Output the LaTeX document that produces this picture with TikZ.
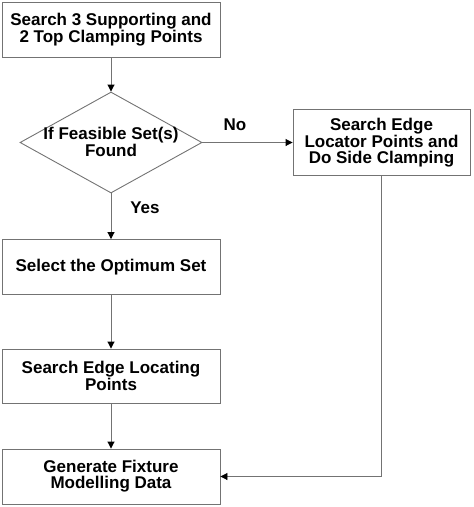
\documentclass[tikz,border=0pt]{standalone}
\usepackage{fontspec}
\setmainfont{Liberation Sans}
\usetikzlibrary{shapes.geometric,arrows.meta}
\tikzset{
  line/.style={draw=black!55, line width=0.9pt},
  procbox/.style={line, rectangle, minimum width=218pt, inner sep=0pt, align=center,
    font=\fontsize{17pt}{15.8pt}\selectfont\bfseries},
  decision/.style={line, diamond, minimum width=182pt, minimum height=101pt, inner sep=0pt},
  txt/.style={align=center, inner sep=0pt, font=\fontsize{17pt}{15.8pt}\selectfont\bfseries},
  flow/.style={line, -{Triangle[length=7pt,width=7pt,color=black]}},
}
\begin{document}
\begin{tikzpicture}[x=1pt,y=-1pt]
\useasboundingbox (0,0) rectangle (474,507);
\node[procbox, minimum height=55pt] (b1) at (111,29.5) {Search 3 Supporting and\\2 Top Clamping Points};
\node[decision] (d) at (111,142.5) {};
\node[txt] (dt) at (111,142) {If Feasible Set(s)\\Found};
\node[procbox, minimum width=177pt, minimum height=66pt] (r) at (381.5,142.5) {Search Edge\\Locator Points and\\Do Side Clamping};
\node[procbox, minimum height=55pt] (b2) at (111,267) {Select the Optimum Set};
\node[procbox, minimum height=54pt] (b3) at (111,376) {Search Edge Locating\\Points};
\node[procbox, minimum height=55pt] (b4) at (111,476.5) {Generate Fixture\\Modelling Data};
\node[txt] (no) at (235,124.5) {No};
\node[txt] (yes) at (145,207.5) {Yes};
\draw[flow] (b1.south) -- (d.north);
\draw[flow] (d.east) -- (r.west);
\draw[flow] (d.south) -- (b2.north);
\draw[flow] (b2.south) -- (b3.north);
\draw[flow] (b3.south) -- (b4.north);
\draw[flow] (r.south) |- (b4.east);
\end{tikzpicture}
\end{document}
